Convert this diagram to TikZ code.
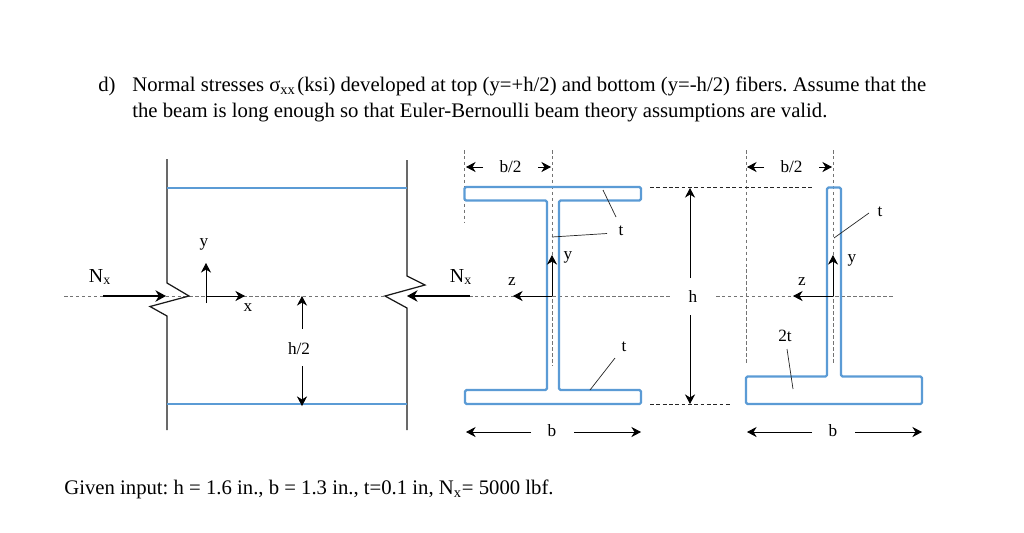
\documentclass[tikz,border=0pt]{standalone}
\usepackage{fontspec}
\setmainfont{Liberation Serif}
\frenchspacing
\usetikzlibrary{arrows.meta, positioning}

\begin{document}
\begin{tikzpicture}[
            x=0.02cm, y=-0.02cm,
            heading/.style={anchor=base west, inner sep=0pt, font=\fontsize{11.79}{13}\selectfont},
            dimlabel/.style={inner sep=0pt, font=\fontsize{9.8}{11}\selectfont},
            forcelabel/.style={inner sep=0pt, font=\fontsize{11.3}{12}\selectfont},
            section/.style={draw=secblue, line width=1.3pt, line join=round, rounded corners=0.8pt},
            wall/.style={draw=black!90, line width=0.7pt},
            center/.style={draw=black!55, line width=0.55pt, dash pattern=on 2pt off 1.4pt},
            guide/.style={draw=black!85, line width=0.55pt, dash pattern=on 2.2pt off 1.4pt},
            arrow/.style={-{Stealth[length=5.5pt, width=5.8pt]}, line width=0.5pt},
            force/.style={-{Stealth[length=6pt, width=6.5pt]}, line width=1.2pt},
            leader/.style={draw=black!85, line width=0.4pt}
        ]
            \definecolor{secblue}{HTML}{5B9BD5}
            \useasboundingbox (0,0) rectangle (1024,532);

            % Text
            \node[heading] (part) at (98,91) {d)};
            \node[heading] (line1) at (132,91) {Normal stresses σ\textsubscript{xx}\hspace{0.08em}(ksi) developed at top (y=+h/2) and bottom (y=-h/2) fibers. Assume that the};
            \node[heading] (line2) at (132,117) {the beam is long enough so that Euler-Bernoulli beam theory assumptions are valid.};
            \node[heading] (given) at (64,494) {Given input: h = 1.6 in., b = 1.3 in., t=0.1 in, N\textsubscript{x}= 5000 lbf.};

            % Center lines
            \draw[center] (64,296) -- (385,296);
            \draw[center] (469,296) -- (670,296);
            \draw[center] (716,296) -- (895,296);
            \foreach \xc/\ye in {464.5/223, 552/366, 746/363, 833/365} {
                \draw[center] (\xc,150) -- (\xc,\ye);
            }
            \draw[guide] (650,187) -- (812,187);
            \draw[guide] (650,404) -- (730,404);

            % Beam side view
            \draw[wall] (167,159) -- (167,283) -- (189,296) -- (150,306.5) -- (167,316) -- (167,430);
            \draw[wall] (407,160) -- (407,276) -- (425,285) -- (385,296) -- (407,308) -- (407,430);
            \draw[section] (167,187.9) -- (407,187.9);
            \draw[section] (167,404) -- (407,404);

            % Sections
            \draw[section] (464.5,187) -- (641,187) -- (641,200.5) -- (559,200.5) -- (559,390) -- (641,390) -- (641,404) -- (465,404) -- (465,390) -- (547,390) -- (547,200.5) -- (464.5,200.5) -- cycle;
            \draw[section] (827,187.5) -- (841,187.5) -- (841,376.5) -- (922,376.5) -- (922,404) -- (746,404) -- (746,376.5) -- (827,376.5) -- cycle;

            % Axial forces
            \node[forcelabel] (nleft) at (100,277) {N\textsubscript{x}};
            \node[forcelabel] (nright) at (461,277) {N\textsubscript{x}};
            \coordinate (fl0) at (103,296);
            \coordinate (fl1) at (166,296);
            \coordinate (fr0) at (470,296);
            \coordinate (fr1) at (407,296);
            \draw[force] (fl0) -- (fl1);
            \draw[force] (fr0) -- (fr1);

            % Axes on the side view
            \coordinate (orig) at (206,296);
            \coordinate (ystart) at (206,303);
            \coordinate (yend) at (206,263);
            \coordinate (xend) at (245,296);
            \node[dimlabel] (ylab) at (204,244) {y};
            \node[dimlabel] (xlab) at (248,308) {x};
            \draw[arrow] (ystart) -- (yend);
            \draw[arrow] (orig) -- (xend);

            % Half height
            \node[dimlabel] (hhalf) at (299,349) {h/2};
            \coordinate (hhtop) at (302,296);
            \coordinate (hhbot) at (302,406);
            \draw[arrow] (302,329) -- (hhtop);
            \draw[arrow] (302,366) -- (hhbot);

            % Axes on the sections
            \foreach \name/\xo/\zx/\zl/\yl/\yy in {i/552/513/512/568/257, t/833/793/802/852/260} {
                \coordinate (o\name) at (\xo,296);
                \coordinate (z\name) at (\zx,296);
                \coordinate (y\name) at (\xo,255);
                \node[dimlabel] (zlab\name) at (\zl,282) {z};
                \node[dimlabel] (ylab\name) at (\yl,\yy) {y};
                \draw[arrow] (o\name) -- (z\name);
                \draw[arrow] (o\name) -- (y\name);
            }

            % Widths
            \foreach \name/\xa/\xm/\xb in {i/465/552/641, t/746/833/922} {
                \node[dimlabel] (bhalf\name) at (\xa+45.5,167) {b/2};
                \node[dimlabel] (b\name) at (\xm,431) {b};
                \draw[arrow] (\xa+18,167) -- (\xa+1,167);
                \draw[arrow] (\xm-14,167) -- (\xm-1,167);
                \draw[arrow] (\xm-21,432) -- (\xa+1,432);
                \draw[arrow] (\xm+22,432) -- (\xb,432);
            }

            % Height
            \node[dimlabel] (h) at (693,297) {h};
            \coordinate (htop) at (690,188);
            \coordinate (hbot) at (690,404);
            \draw[arrow] (690,278) -- (htop);
            \draw[arrow] (690,315) -- (hbot);

            % Thickness labels
            \node[dimlabel] (t1) at (621,231) {t};
            \node[dimlabel] (t2) at (624,347) {t};
            \node[dimlabel] (t3) at (880,212) {t};
            \node[dimlabel] (t4) at (785,336) {2t};
            \draw[leader] (603,190) -- (616,217);
            \draw[leader] (552,237) -- (607,233.5);
            \draw[leader] (590,390) -- (615,358);
            \draw[leader] (834,238) -- (869,213);
            \draw[leader] (787,349) -- (793,389);
        \end{tikzpicture}
\end{document}
